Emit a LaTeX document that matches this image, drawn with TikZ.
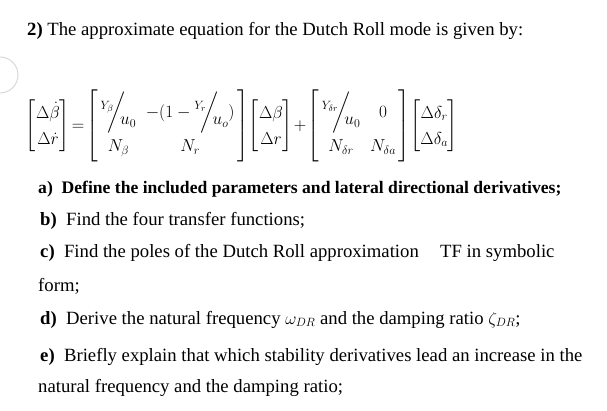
\documentclass[tikz,border=0pt]{standalone}
\usepackage{fontspec}
\setmainfont{Liberation Serif}
\usepackage{amsmath}
\newcommand{\slfr}[2]{\raisebox{0.9ex}{$\scriptstyle #1$}\!\!\bigg/\!\!\raisebox{-0.9ex}{$#2$}}
\begin{document}
\begin{tikzpicture}[x=1pt,y=-1pt,
  txt/.style={anchor=base west,inner sep=0pt,font=\fontsize{18.7}{20}\selectfont}]
\useasboundingbox[fill=white] (0,0) rectangle (607,411);
\draw[black!15,line width=1pt] (0,93) arc[start angle=90,end angle=-90,radius=18];
\node[txt] (t0) at (27,36) {\textbf{2)} The approximate equation for the Dutch Roll mode is given by:};
\node[anchor=center,inner sep=0pt,font=\fontsize{18}{20}\selectfont] (eq) at (242,126) {$\renewcommand{\arraystretch}{1.3}
\left[\begin{array}{@{}c@{}}\Delta\dot\beta\\ \Delta\dot r\end{array}\right]\!=\!
\left[\begin{array}{@{\,}c@{\;\;}c@{\,}}\slfr{Y_\beta}{u_0} & -(1-\slfr{Y_r}{u_o})\\ N_\beta & N_r\end{array}\right]\!
\left[\begin{array}{@{}c@{}}\Delta\beta\\ \Delta r\end{array}\right]\!+\!
\left[\begin{array}{@{\,}c@{\;\;}c@{\,}}\slfr{Y_{\delta r}}{u_0} & 0\\ N_{\delta r} & N_{\delta a}\end{array}\right]\!
\left[\begin{array}{@{}c@{}}\Delta\delta_r\\ \Delta\delta_a\end{array}\right]$};
\node[txt,font=\fontsize{17.6}{20}\selectfont] (ta) at (38,194) {\textbf{a)\ \ Define the included parameters and lateral directional derivatives;}};
\node[txt] (tb) at (40,226) {\textbf{b)} \ Find the four transfer functions;};
\node[txt] (tc) at (40,258) {\textbf{c)} \ Find the poles of the Dutch Roll approximation};
\node[txt] (tc2) at (440,258) {TF in symbolic};
\node[txt] (tf) at (38,292) {form;};
\node[txt] (td) at (40,324) {\textbf{d)} \ Derive the natural frequency $\omega_{DR}$ and the damping ratio $\zeta_{DR}$;};
\node[txt] (te) at (40,361) {\textbf{e)} \ Briefly explain that which stability derivatives lead an increase in the};
\node[txt] (tn) at (38,392) {natural frequency and the damping ratio;};
\end{tikzpicture}
\end{document}
